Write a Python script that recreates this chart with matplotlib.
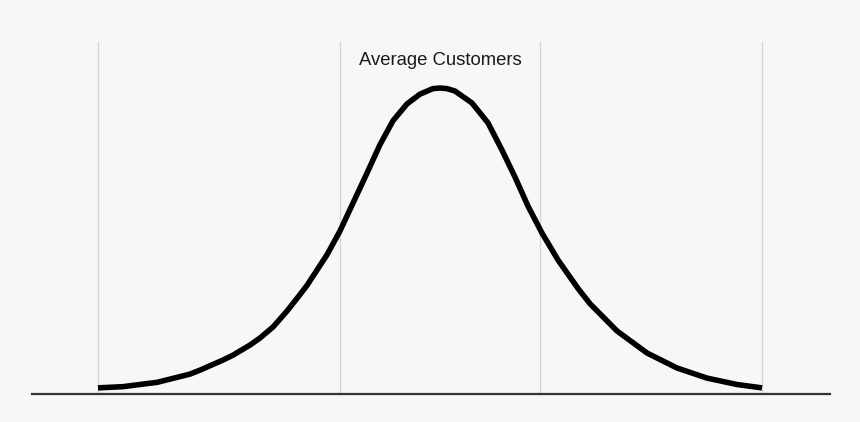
import matplotlib
matplotlib.use("Agg")
import matplotlib.pyplot as plt

# distance from the average (in std devs) and relative share of customers
dev = [-3.42, -3.17, -2.93, -2.83, -2.50, -2.40, -2.17, -2.07, -1.90, -1.80,
       -1.67, -1.53, -1.40, -1.33, -1.20, -1.13, -1.00, -0.87, -0.73, -0.60,
       -0.47, -0.33, -0.20, -0.07, 0.00,
       0.07, 0.15, 0.32, 0.48, 0.62, 0.75, 0.88, 1.02, 1.18, 1.38,
       1.50, 1.77, 2.07, 2.37, 2.67, 2.97, 3.22]
share = [0.020, 0.024, 0.034, 0.038, 0.065, 0.078, 0.111, 0.127, 0.160, 0.183,
         0.219, 0.271, 0.325, 0.355, 0.420, 0.455, 0.533, 0.624, 0.722, 0.815,
         0.893, 0.948, 0.980, 0.998, 1.000,
         0.998, 0.990, 0.951, 0.886, 0.797, 0.709, 0.614, 0.526, 0.438, 0.345,
         0.295, 0.206, 0.134, 0.085, 0.052, 0.031, 0.020]

guide_x = [-3.42, -1.00, 1.00, 3.22]
label = "Average Customers"

fig = plt.figure(figsize=(8.6, 4.22), dpi=100)
fig.patch.set_facecolor("#f7f7f7")
ax = fig.add_axes([0, 0, 1, 1])
ax.set_facecolor("#f7f7f7")

for gx in guide_x:
    ax.plot([gx, gx], [0, 1.15], color="#d2d2d2", lw=0.9, zorder=1)

ax.plot([-4.08, 3.90], [0, 0], color="#333333", lw=1.6, zorder=2)

ax.plot(dev, share, color="black", lw=4.0, solid_capstyle="butt",
        solid_joinstyle="round", zorder=3)

ax.text(0.0, 1.091, label, ha="center", va="center", fontsize=13.3,
        family="Liberation Sans", color="#1a1a1a")

ax.set_xlim(-4.40, 4.20)
ax.set_ylim(-0.0915, 1.2876)
ax.axis("off")

fig.savefig("out.png", dpi=100, facecolor=fig.get_facecolor())
